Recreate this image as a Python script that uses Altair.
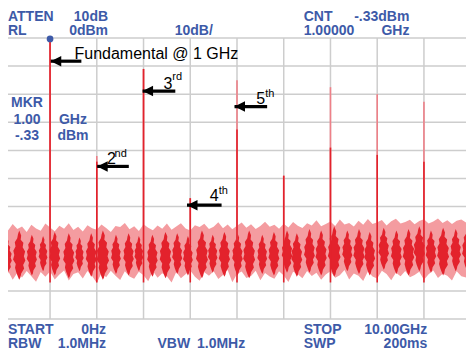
import altair as alt
import pandas as pd

# ---------------- data ----------------
harm_ghz = [0, 1, 2, 3, 4, 5, 6, 7, 8, 9, 10]
harm_peak_dbm = [-33.0, -0.33, -42.0, -11.0, -57.0, -15.0, -49.0, -17.5, -20.0, -22.7, -58.0]
harm_dark_dbm = [-60.0, -0.33, -44.0, -11.0, -57.0, -32.6, -49.0, -39.0, -41.6, -44.0, -58.0]

noise_ghz = [round(i * 0.1, 1) for i in range(101)]
noise_top = [
    -67.0, -68.5, -66.2, -68.0, -67.1, -69.0, -66.5, -67.8, -68.6, -66.0,
    -67.4, -68.8, -66.8, -67.9, -65.9, -68.3, -67.2, -68.9, -66.6, -67.7,
    -68.2, -66.4, -67.6, -69.0, -66.9, -67.3, -65.8, -68.1, -67.0, -68.7,
    -66.3, -67.5, -68.4, -66.7, -67.9, -66.0, -68.2, -67.1, -65.9, -67.8,
    -68.5, -66.6, -67.3, -66.1, -68.0, -67.2, -65.6, -67.7, -66.4, -68.1,
    -66.8, -65.7, -67.5, -66.3, -68.0, -66.9, -65.4, -67.2, -66.5, -67.9,
    -66.1, -67.4, -65.5, -66.8, -67.6, -65.9, -66.7, -64.9, -67.0, -66.2,
    -65.3, -66.9, -64.6, -66.4, -65.8, -67.1, -65.0, -66.5, -64.4, -66.2,
    -65.6, -64.8, -66.7, -65.2, -64.3, -66.0, -65.5, -64.7, -66.3, -65.1,
    -64.5, -66.0, -65.3, -64.2, -65.8, -64.9, -66.2, -65.0, -64.6, -65.7,
    -65.2,
]
noise_bottom = [
    -84.5, -82.8, -86.0, -83.5, -85.2, -82.9, -84.8, -86.7, -83.3, -85.0,
    -83.1, -85.9, -84.2, -82.7, -86.3, -84.0, -83.4, -85.6, -82.9, -84.7,
    -87.2, -83.6, -85.1, -82.8, -84.6, -86.1, -83.0, -84.9, -85.7, -83.2,
    -84.4, -86.6, -82.9, -85.3, -83.7, -84.8, -87.0, -83.3, -85.5, -84.1,
    -82.7, -85.0, -86.4, -83.4, -84.6, -83.0, -85.8, -84.3, -82.6, -86.9,
    -84.0, -83.1, -85.4, -84.7, -82.8, -86.2, -83.6, -84.9, -85.7, -83.0,
    -84.5, -86.8, -83.2, -84.1, -85.5, -82.9, -84.7, -83.5, -86.0, -84.2,
    -83.0, -85.3, -84.4, -82.6, -85.9, -83.8, -84.6, -86.5, -83.1, -84.9,
    -85.6, -82.8, -84.0, -86.2, -83.5, -84.8, -82.9, -85.1, -84.3, -83.2,
    -86.0, -84.1, -82.7, -85.4, -83.9, -84.6, -86.3, -83.0, -84.8, -85.2,
    -83.8,
]

burst_ghz = [0.08, 0.34, 0.61, 0.85, 1.10, 1.40, 1.63, 1.88, 2.13, 2.41, 2.68, 2.90, 3.19,
             3.47, 3.72, 3.95, 4.25, 4.48, 4.73, 5.01, 5.26, 5.54, 5.79, 6.07, 6.28, 6.55,
             6.80, 7.08, 7.36, 7.61, 7.84, 8.14, 8.41, 8.67, 8.90, 9.15, 9.41, 9.68, 9.94]
burst_top = [-71.0, -68.5, -70.0, -70.5, -69.0, -69.5, -71.0, -69.5, -68.5, -70.0, -69.5, -70.5, -70.0,
             -69.0, -69.5, -70.5, -68.5, -70.0, -69.0, -69.5, -68.5, -70.0, -69.0, -68.5, -69.5, -68.0,
             -68.5, -67.0, -68.5, -68.0, -69.0, -67.5, -68.5, -68.0, -67.0, -68.5, -67.5, -68.0, -67.0]
burst_bottom = [-84.5, -86.0, -84.5, -83.0, -84.5, -85.5, -83.0, -85.0, -86.0, -84.0, -84.5, -83.0, -85.0,
                -85.5, -84.0, -84.5, -85.5, -83.5, -85.0, -84.5, -85.5, -84.0, -84.5, -83.5, -85.0, -83.5,
                -84.5, -85.0, -83.0, -84.0, -84.5, -82.5, -84.0, -84.5, -83.0, -83.5, -84.5, -83.0, -83.5]

marker_ghz = [1.0]
marker_dbm = [-0.33]

grid_ghz = [0, 1, 2, 3, 4, 5, 6, 7, 8, 9, 10]
grid_dbm = [-100, -90, -80, -70, -60, -50, -40, -30, -20, -10, 0]

# screen header / footer text (x in GHz, y in dBm of the display)
hdr_left_text = ["ATTEN", "RL", "CNT", "1.00000", "START", "RBW", "VBW", "1.0MHz", "STOP", "SWP"]
hdr_left_x = [0.1, 0.1, 6.427, 6.427, 0.1, 0.1, 3.298, 4.144, 6.427, 6.427]
hdr_left_y = [7.65, 2.49, 7.65, 2.49, -103.74, -108.9, -108.9, -108.9, -103.74, -108.9]

hdr_right_text = ["10dB", "0dBm", "10dB/", "-.33dBm", "GHz", "0Hz", "1.0MHz", "10.00GHz", "200ms"]
hdr_right_x = [2.241, 2.241, 4.482, 8.689, 8.689, 2.199, 2.199, 9.07, 9.07]
hdr_right_y = [7.65, 2.49, 2.49, 7.65, 2.49, -103.74, -108.9, -103.74, -108.9]

mkr_text = ["MKR", "1.00", "-.33", "GHz", "dBm"]
mkr_x = [0.507, 0.507, 0.507, 1.49, 1.49]
mkr_y = [-23.0, -29.2, -34.7, -29.2, -34.7]

arrow_head = [1.015, 2.008, 2.98, 3.93, 4.947]
arrow_tail = [1.67, 2.685, 3.68, 4.67, 5.645]
arrow_y = [-8.25, -45.7, -18.9, -59.5, -24.4]

label_text = ["Fundamental @ 1 GHz", "2", "3", "4", "5"]
label_x = [1.522, 2.22, 3.425, 4.419, 5.412]
label_y = [-5.84, -43.0, -16.2, -56.4, -21.6]

sup_text = ["nd", "rd", "th", "th"]
sup_x = [2.38, 3.615, 4.609, 5.602]
sup_y = [-41.4, -13.9, -54.6, -20.0]

# ---------------- styles ----------------
DARK = "#e3222c"
PINK = "#f49ca0"
LIGHT_SPIKE = "#ee8088"
BLUE = "#3d5aa8"
GRID = "#cdcdcd"
FONT = "Liberation Sans"
PX_PER_DB = 2.81

SPINDLE = ("M0,-1L0.08,-0.8L0.06,-0.62L0.17,-0.5L0.14,-0.32L0.24,-0.15L0.19,0.05L0.25,0.22"
           "L0.16,0.4L0.2,0.55L0.08,0.75L0.05,0.9L0,1L-0.06,0.86L-0.12,0.7L-0.17,0.52"
           "L-0.14,0.36L-0.25,0.18L-0.2,0L-0.24,-0.18L-0.15,-0.35L-0.18,-0.52L-0.08,-0.68"
           "L-0.05,-0.85Z")
ARROWHEAD = "M0,0L2,-1L2,1Z"

xs = alt.Scale(domain=[0.1, 9.9], nice=False, zero=False)
ys = alt.Scale(domain=[-100, 0], nice=False, zero=False)


def X(f, **kw):
    return alt.X(f"{f}:Q", scale=xs, axis=None, **kw)


def Y(f, **kw):
    return alt.Y(f"{f}:Q", scale=ys, axis=None, **kw)


# ---------------- layers ----------------
vgrid = alt.Chart(pd.DataFrame({"g": grid_ghz})).mark_rule(color=GRID, strokeWidth=1.5).encode(x=X("g"))
hgrid = alt.Chart(pd.DataFrame({"d": grid_dbm})).mark_rule(color=GRID, strokeWidth=1.5).encode(y=Y("d"))

noise_df = pd.DataFrame({"ghz": noise_ghz, "top": noise_top, "bottom": noise_bottom})
noise = alt.Chart(noise_df).mark_area(color=PINK, interpolate="linear", opacity=1).encode(
    x=X("ghz"), y=Y("top"), y2="bottom:Q"
)

burst_df = pd.DataFrame({"ghz": burst_ghz, "top": burst_top, "bottom": burst_bottom})
bursts = alt.Chart(burst_df).transform_calculate(
    mid="(datum.top + datum.bottom) / 2",
    sz=f"pow((datum.top - datum.bottom) * {PX_PER_DB}, 2)",
).mark_point(shape=SPINDLE, filled=True, color=DARK, opacity=1, strokeWidth=0).encode(
    x=X("ghz"), y=Y("mid"), size=alt.Size("sz:Q", scale=None)
)

harm_df = pd.DataFrame({"ghz": harm_ghz, "peak": harm_peak_dbm, "dark": harm_dark_dbm})
spikes_light = alt.Chart(harm_df).transform_calculate(base="-72").mark_rule(
    color=LIGHT_SPIKE, strokeWidth=1.6).encode(x=X("ghz"), y=Y("peak"), y2="base:Q")
spikes_dark = alt.Chart(harm_df).transform_calculate(base="-87").mark_rule(
    color=DARK, strokeWidth=1.6).encode(x=X("ghz"), y=Y("dark"), y2="base:Q")

mk_df = pd.DataFrame({"ghz": marker_ghz, "dbm": marker_dbm})
marker = alt.Chart(mk_df).mark_point(shape="circle", filled=True, color=BLUE, size=45, opacity=1).encode(
    x=X("ghz"), y=Y("dbm"))

arr_df = pd.DataFrame({"head": arrow_head, "tail": arrow_tail, "y": arrow_y})
shafts = alt.Chart(arr_df).mark_rule(color="black", strokeWidth=3.2).encode(
    x=X("head"), x2="tail:Q", y=Y("y"))
heads = alt.Chart(arr_df).mark_point(shape=ARROWHEAD, filled=True, color="black", size=110,
                                     opacity=1, strokeWidth=0).encode(x=X("head"), y=Y("y"))

lab_df = pd.DataFrame({"t": label_text, "x": label_x, "y": label_y})
labels = alt.Chart(lab_df).mark_text(align="left", baseline="middle", font=FONT, fontSize=16,
                                     color="black").encode(x=X("x"), y=Y("y"), text="t:N")
sup_df = pd.DataFrame({"t": sup_text, "x": sup_x, "y": sup_y})
sups = alt.Chart(sup_df).mark_text(align="left", baseline="middle", font=FONT, fontSize=11,
                                   color="black").encode(x=X("x"), y=Y("y"), text="t:N")

hl_df = pd.DataFrame({"t": hdr_left_text, "x": hdr_left_x, "y": hdr_left_y})
hdr_left = alt.Chart(hl_df).mark_text(align="left", baseline="middle", font=FONT, fontSize=14,
                                      fontWeight="bold", color=BLUE).encode(x=X("x"), y=Y("y"), text="t:N")
hr_df = pd.DataFrame({"t": hdr_right_text, "x": hdr_right_x, "y": hdr_right_y})
hdr_right = alt.Chart(hr_df).mark_text(align="right", baseline="middle", font=FONT, fontSize=14,
                                       fontWeight="bold", color=BLUE).encode(x=X("x"), y=Y("y"), text="t:N")
mk_txt_df = pd.DataFrame({"t": mkr_text, "x": mkr_x, "y": mkr_y})
mkr_txt = alt.Chart(mk_txt_df).mark_text(align="center", baseline="middle", font=FONT, fontSize=14,
                                         fontWeight="bold", color=BLUE).encode(x=X("x"), y=Y("y"), text="t:N")

chart = alt.layer(
    vgrid, hgrid, noise, bursts, spikes_light, spikes_dark, marker, shafts, heads,
    labels, sups, hdr_left, hdr_right, mkr_txt,
).properties(
    width=458, height=281,
    autosize=alt.AutoSizeParams(type="none"),
    padding={"left": 0, "right": 0, "top": 30, "bottom": 32},
).configure_view(strokeWidth=0)

chart.save("out.html", embed_options={"renderer": "svg", "actions": False})
